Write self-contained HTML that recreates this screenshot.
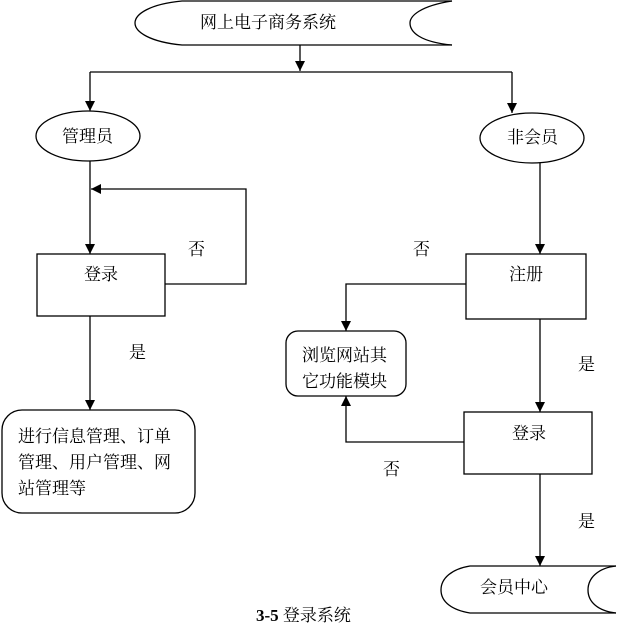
<!DOCTYPE html>
<html><head><meta charset="utf-8"><style>
body{margin:0;background:#fff}
svg text{font-family:"Liberation Serif","Noto Serif CJK SC","Noto Sans CJK SC",serif;font-size:17px;fill:#000}
</style></head><body>
<svg width="621" height="635" viewBox="0 0 621 635" xmlns="http://www.w3.org/2000/svg">
<defs>
<marker id="d" viewBox="0 0 10 10" refX="10" refY="5" markerWidth="10" markerHeight="10" orient="auto" markerUnits="userSpaceOnUse"><path d="M0,0 L10,5 L0,10 Z" fill="#000"/></marker></defs>
<g fill="none" stroke="#000" stroke-width="1.3">
<path d="M452,45 L182,45 C150,42 135,32 135,23 C135,14 150,4 182,1 L452,1" fill="#fff"/>
<path d="M452,1 C420,6 410,16 410,23 C410,32 420,42 452,45"/>
<path d="M616,613 L470,613 C452,610 441,602 441,590 C441,578 452,569 470,566 L616,566" fill="#fff"/>
<path d="M616,566 C598,568 588,578 588,590 C588,602 598,611 616,613"/>
<line x1="300" y1="45" x2="300" y2="71" marker-end="url(#d)"/>
<line x1="90" y1="72" x2="512" y2="72"/>
<line x1="90" y1="72" x2="90" y2="111" marker-end="url(#d)"/>
<line x1="512" y1="72" x2="512" y2="113" marker-end="url(#d)"/>
<ellipse cx="88" cy="136" rx="52" ry="25"/>
<ellipse cx="532" cy="138" rx="52" ry="25"/>
<line x1="90" y1="161" x2="90" y2="254" marker-end="url(#d)"/>
<rect x="37" y="254" width="128" height="62"/>
<polyline points="165,284 246,284 246,189 91,189" marker-end="url(#d)"/>
<line x1="90" y1="316" x2="90" y2="410" marker-end="url(#d)"/>
<rect x="2" y="410" width="193" height="103" rx="20"/>
<line x1="540" y1="163" x2="540" y2="254" marker-end="url(#d)"/>
<rect x="466" y="254" width="120" height="65"/>
<polyline points="466,284 346,284 346,331" marker-end="url(#d)"/>
<rect x="286" y="331" width="120" height="65" rx="12"/>
<line x1="540" y1="319" x2="540" y2="412" marker-end="url(#d)"/>
<rect x="464" y="412" width="128" height="62"/>
<polyline points="464,442 346,442 346,396" marker-end="url(#d)"/>
<line x1="540" y1="474" x2="540" y2="566" marker-end="url(#d)"/>
</g>
<text x="200" y="28">网上电子商务系统</text>
<text x="62" y="142">管理员</text>
<text x="507" y="143">非会员</text>
<text x="84" y="280">登录</text>
<text x="188" y="255">否</text>
<text x="413" y="255">否</text>
<text x="129" y="358">是</text>
<text x="509" y="280">注册</text>
<text x="302" y="361">浏览网站其</text>
<text x="302" y="387">它功能模块</text>
<text x="578" y="370">是</text>
<text x="512" y="439">登录</text>
<text x="383" y="475">否</text>
<text x="578" y="527">是</text>
<text x="18" y="442">进行信息管理、订单</text>
<text x="18" y="468">管理、用户管理、网</text>
<text x="18" y="494">站管理等</text>
<text x="480" y="593">会员中心</text>
<text x="256" y="621" style="font-weight:bold">3-5 <tspan font-weight="normal">登录系统</tspan></text>
</svg>
</body></html>
